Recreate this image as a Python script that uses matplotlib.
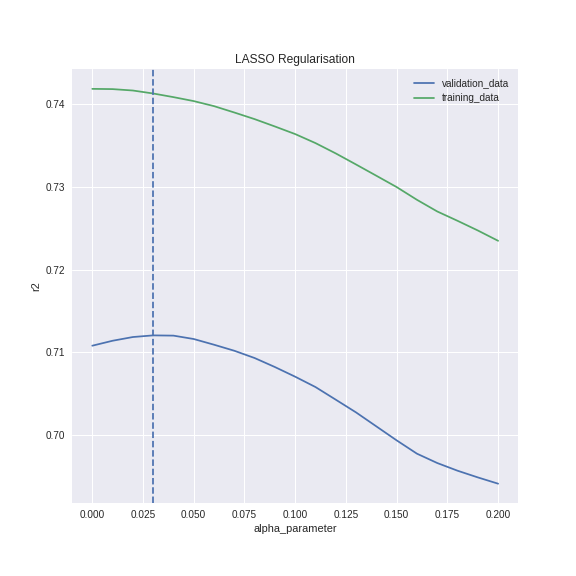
import matplotlib
matplotlib.use("Agg")
import matplotlib.pyplot as plt

alpha = [0.00, 0.01, 0.02, 0.03, 0.04, 0.05, 0.06, 0.07, 0.08, 0.09, 0.10,
         0.11, 0.12, 0.13, 0.14, 0.15, 0.16, 0.17, 0.18, 0.19, 0.20]
validation = [0.7108, 0.7114, 0.71185, 0.71205, 0.71202, 0.71161, 0.71092, 0.71019,
              0.70931, 0.70822, 0.70705, 0.70580, 0.70427, 0.70273, 0.70104, 0.69935,
              0.69774, 0.69661, 0.69568, 0.69487, 0.69411]
training = [0.74187, 0.74184, 0.74167, 0.74131, 0.74087, 0.74039, 0.73978, 0.73901,
            0.73821, 0.73732, 0.73640, 0.73531, 0.73406, 0.73272, 0.73136, 0.72999,
            0.72845, 0.72704, 0.72591, 0.72474, 0.72349]
best_alpha = 0.03

plt.style.use("seaborn-v0_8")
plt.rcParams["font.family"] = ["Liberation Sans", "DejaVu Sans"]

fig = plt.figure(figsize=(8, 8), dpi=72)
ax = fig.add_subplot(111)
fig.subplots_adjust(left=0.125, right=0.9, top=0.88, bottom=0.126)

ax.plot(alpha, validation, color="#4C72B0", label="validation_data")
ax.plot(alpha, training, color="#55A868", label="training_data")
ax.axvline(best_alpha, color="#4C72B0", linestyle="--")
ax.set_title("LASSO Regularisation")
ax.set_xlabel("alpha_parameter")
ax.set_ylabel("r2")
ax.legend(loc="upper right")

fig.savefig("out.png", dpi=72)
